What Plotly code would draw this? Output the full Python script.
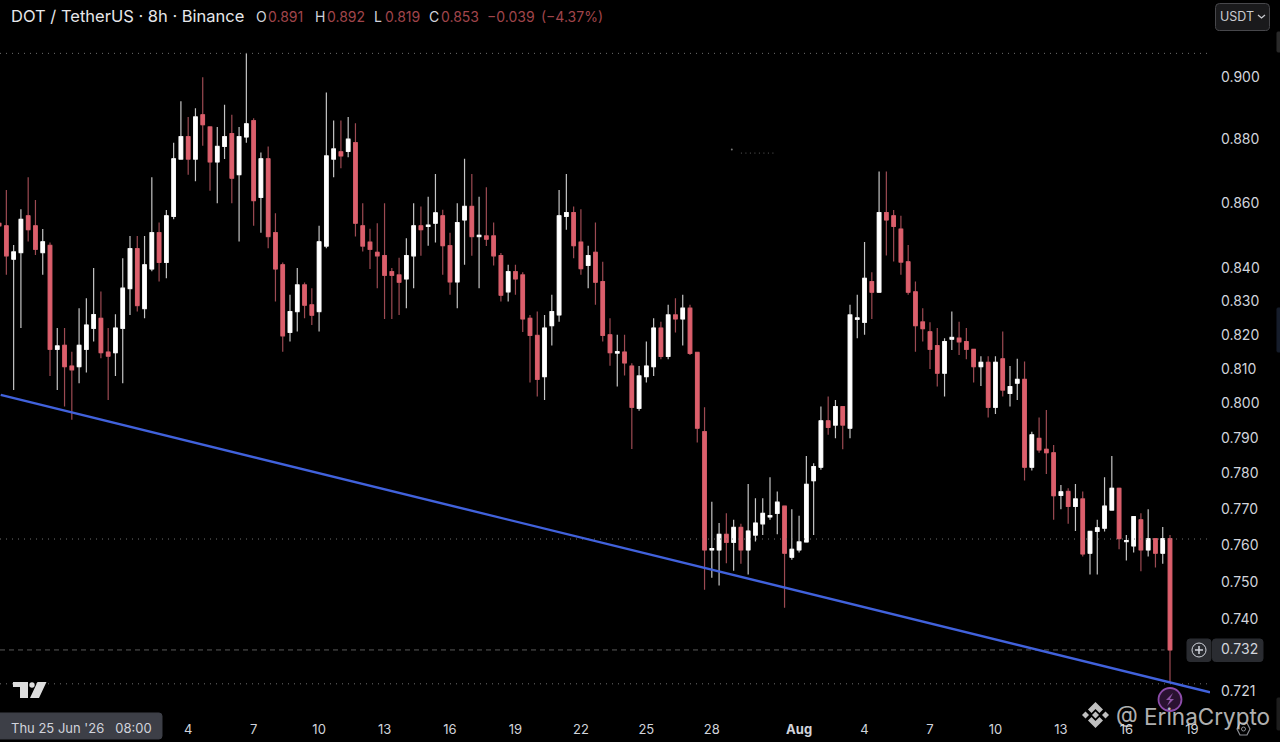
import pandas as pd
import plotly.graph_objects as go

# 8h candles, first one opens Thu 25 Jun '26 08:00
dates = pd.date_range("2026-06-25 08:00", periods=162, freq="8h")

opens = [
    .8537, .8529, .8427, .8447, .8560, .8529, .8447, .8469, .8157, .8169, .8108, .8106, .8157, .8219, .8249, .8149, .8147, .8219, .8338, .8459,
    .8278, .8397, .8508, .8417, .8558, .8737, .8808, .8737, .8878, .8839, .8728, .8777, .8818, .8688, .8807, .8859, .8617, .8738, .8508, .8410,
    .8207, .8269, .8349, .8289, .8269, .8467, .8737, .8760, .8761, .8789, .8529, .8479, .8448, .8438, .8389, .8379, .8367, .8437, .8529, .8527,
    .8537, .8560, .8468, .8358, .8547, .8589, .8496, .8498, .8498, .8438, .8328, .8389, .8379, .8249, .8198, .8077, .8227, .8259, .8558, .8570,
    .8479, .8408, .8448, .8359, .8200, .8146, .8149, .8108, .7985, .8077, .8106, .8220, .8136, .8259, .8247, .8279, .8148, .7918, .7587, .7587,
    .7630, .7608, .7649, .7587, .7628, .7659, .7678, .7688, .7708, .7567, .7587, .7609, .7779, .7817, .7949, .7937, .7990, .7928, .8246, .8237,
    .8359, .8327, .8570, .8560, .8519, .8419, .8328, .8238, .8209, .8168, .8087, .8187, .8190, .8180, .8157, .8106, .8119, .7988, .8129, .8028,
    .8058, .8069, .7817, .7899, .7868, .7858, .7738, .7749, .7707, .7728, .7578, .7638, .7647, .7697, .7758, .7610, .7598, .7670, .7587, .7618,
    .7578, .7618,
]
highs = [
    .8910, .8640, .8470, .8580, .8680, .8609, .8519, .8478, .8220, .8220, .8150, .8279, .8309, .8400, .8329, .8220, .8261, .8430, .8498, .8498,
    .8498, .8680, .8539, .8578, .8789, .8921, .8871, .8899, .8999, .8839, .8839, .8910, .8878, .8839, .9077, .8867, .8758, .8777, .8568, .8417,
    .8319, .8400, .8356, .8339, .8529, .8950, .8860, .8860, .8871, .8851, .8599, .8520, .8537, .8599, .8400, .8431, .8491, .8599, .8589, .8619,
    .8690, .8579, .8508, .8599, .8738, .8690, .8619, .8649, .8539, .8446, .8410, .8410, .8387, .8259, .8269, .8259, .8319, .8640, .8690, .8589,
    .8580, .8468, .8539, .8419, .8249, .8200, .8200, .8116, .8108, .8180, .8249, .8239, .8289, .8309, .8319, .8289, .8148, .7988, .7720, .7661,
    .7688, .7670, .7659, .7770, .7730, .7730, .7789, .7749, .7708, .7699, .7681, .7849, .7828, .7990, .8019, .8009, .7990, .8289, .8319, .8479,
    .8387, .8698, .8698, .8578, .8560, .8470, .8359, .8279, .8237, .8220, .8190, .8269, .8239, .8220, .8157, .8137, .8137, .8137, .8210, .8108,
    .8129, .8121, .7918, .7959, .7980, .7880, .7767, .7758, .7770, .7749, .7638, .7670, .7789, .7849, .7758, .7628, .7679, .7688, .7699, .7619,
    .7650, .7628,
]
lows = [
    .8529, .8380, .8038, .8220, .8481, .8440, .8380, .8079, .8038, .7990, .7952, .8058, .8089, .8180, .8131, .8009, .8079, .8058, .8259, .8269,
    .8249, .8390, .8359, .8369, .8549, .8737, .8688, .8667, .8779, .8638, .8599, .8737, .8599, .8481, .8789, .8529, .8508, .8460, .8299, .8150,
    .8180, .8210, .8249, .8229, .8210, .8460, .8680, .8708, .8743, .8496, .8450, .8397, .8339, .8247, .8247, .8259, .8279, .8339, .8437, .8468,
    .8478, .8380, .8319, .8279, .8410, .8437, .8339, .8467, .8408, .8299, .8299, .8319, .8208, .8060, .8019, .8009, .8168, .8239, .8517, .8430,
    .8380, .8339, .8289, .8180, .8109, .8048, .8080, .7869, .7978, .8060, .8079, .8128, .8128, .8207, .8168, .8140, .7887, .7479, .7511, .7490,
    .7551, .7530, .7549, .7520, .7610, .7628, .7670, .7630, .7430, .7560, .7580, .7609, .7628, .7810, .7909, .7899, .7868, .7899, .8190, .8200,
    .8247, .8327, .8438, .8420, .8380, .8319, .8150, .8180, .8099, .8048, .8019, .8155, .8140, .8128, .8060, .8050, .7959, .7969, .8019, .7990,
    .8009, .7780, .7808, .7858, .7798, .7670, .7699, .7659, .7639, .7569, .7520, .7520, .7638, .7697, .7589, .7558, .7580, .7529, .7569, .7539,
    .7549, .7232,
]
closes = [
    .8529, .8437, .8449, .8549, .8517, .8457, .8480, .8157, .8167, .8106, .8097, .8169, .8229, .8260, .8147, .8137, .8220, .8339, .8459, .8287,
    .8410, .8508, .8417, .8560, .8738, .8808, .8737, .8871, .8846, .8728, .8777, .8808, .8677, .8808, .8849, .8607, .8738, .8496, .8397, .8197,
    .8269, .8349, .8288, .8258, .8480, .8747, .8769, .8747, .8800, .8537, .8467, .8457, .8437, .8378, .8378, .8357, .8438, .8529, .8517, .8531,
    .8569, .8468, .8358, .8539, .8589, .8496, .8500, .8488, .8437, .8318, .8389, .8367, .8247, .8198, .8069, .8220, .8269, .8560, .8570, .8468,
    .8398, .8438, .8357, .8198, .8147, .8150, .8117, .7988, .8079, .8108, .8220, .8136, .8259, .8247, .8279, .8145, .7928, .7587, .7591, .7630,
    .7608, .7649, .7587, .7639, .7661, .7688, .7682, .7719, .7578, .7589, .7609, .7769, .7819, .7949, .7930, .7990, .7937, .8259, .8250, .8369,
    .8327, .8570, .8547, .8527, .8418, .8327, .8227, .8218, .8157, .8087, .8180, .8192, .8179, .8157, .8106, .8119, .7988, .8119, .8038, .8048,
    .8069, .7817, .7909, .7866, .7858, .7737, .7748, .7707, .7728, .7576, .7638, .7648, .7708, .7758, .7618, .7613, .7679, .7587, .7618, .7578,
    .7618, .7318,
]

# trendline ends
trend_dates = ["2026-06-25 09:46", "2026-08-19 20:00"]
trend_prices = [.8024, .7207]

chart_ends = ["2026-06-25 09:00", "2026-08-19 20:00"]
high_level = .9077
mid_level = .7617
low_level = .7229
last_price = .7318
last_dates = ["2026-06-25 09:00", "2026-08-17 18:00"]
stub_dates = ["2026-07-29 08:00", "2026-07-30 22:00"]
stub_price = .8756
dot_date = ["2026-07-28 22:00"]
dot_price = [.8767]

y_ticks = [.900, .880, .860, .840, .830, .820, .810, .800, .790, .780, .770, .760, .750, .740, .732, .721]
y_labels = ["0.900", "0.880", "0.860", "0.840", "0.830", "0.820", "0.810", "0.800", "0.790", "0.780",
            "0.770", "0.760", "0.750", "0.740", "0.732", "0.721"]
x_ticks = ["2026-07-04", "2026-07-07", "2026-07-10", "2026-07-13", "2026-07-16", "2026-07-19", "2026-07-22",
           "2026-07-25", "2026-07-28", "2026-08-01", "2026-08-04", "2026-08-07", "2026-08-10", "2026-08-13",
           "2026-08-16", "2026-08-19"]
x_labels = ["4", "7", "10", "13", "16", "19", "22", "25", "28", "<b>Aug</b>", "4", "7", "10", "13", "16", "19"]

RED = "#dc5f6c"
RED_DIM = "#9c4a52"
TEXT = "#d1d4dc"
FONT = "Inter"
PLOT_W = 1210
PLOT_H = 712


def px(x):
    return x / PLOT_W


def py(y):
    return 1 - y / PLOT_H


def poly(points):
    return "M" + " L".join(f"{px(x):.5f},{py(y):.5f}" for x, y in points) + " Z"


def label(x, y, text, color=TEXT, size=13, anchor="left"):
    fig.add_annotation(x=px(x - 1), y=py(y), xref="paper", yref="paper", text=text, showarrow=False,
                       xanchor=anchor, yanchor="middle", font=dict(family=FONT, size=size, color=color))


def shape_path(path, fill=None, line=None, width=1, layer="above"):
    fig.add_shape(type="path", xref="paper", yref="paper", path=path, layer=layer, fillcolor=fill,
                  line=dict(color=line, width=width if line else 0))


def circle(cx, cy, r, fill=None, line=None, width=1):
    fig.add_shape(type="circle", xref="paper", yref="paper", x0=px(cx - r), x1=px(cx + r), y0=py(cy - r), y1=py(cy + r),
                  fillcolor=fill, line=dict(color=line, width=width if line else 0))


def rounded(x0, y0, x1, y1, r, fill, line=None):
    # square corners cut with a quadratic curve
    def p(x, y):
        return f"{px(x):.5f},{py(y):.5f}"
    path = (f"M{p(x0 + r, y0)} L{p(x1 - r, y0)} Q{p(x1, y0)} {p(x1, y0 + r)} L{p(x1, y1 - r)} Q{p(x1, y1)} {p(x1 - r, y1)} "
            f"L{p(x0 + r, y1)} Q{p(x0, y1)} {p(x0, y1 - r)} L{p(x0, y0 + r)} Q{p(x0, y0)} {p(x0 + r, y0)} Z")
    shape_path(path, fill=fill, line=line or fill, layer="below")


def level(price, color, dash):
    fig.add_trace(go.Scatter(x=chart_ends, y=[price, price], mode="lines", hoverinfo="skip",
                             line=dict(color=color, width=1, dash=dash)))


fig = go.Figure()
# wicks first, in the duller colours
fig.add_trace(go.Candlestick(
    x=dates, open=opens, high=highs, low=lows, close=closes,
    increasing=dict(fillcolor="#ffffff", line=dict(color="#c4c4c4", width=1.2)),
    decreasing=dict(fillcolor=RED, line=dict(color=RED_DIM, width=1.2)),
))
# then the bodies on top, without wicks
body_tops = [max(o, c) for o, c in zip(opens, closes)]
body_bottoms = [min(o, c) for o, c in zip(opens, closes)]
fig.add_trace(go.Candlestick(
    x=dates, open=opens, high=body_tops, low=body_bottoms, close=closes,
    increasing=dict(fillcolor="#ffffff", line=dict(color="#ffffff", width=0.8)),
    decreasing=dict(fillcolor=RED, line=dict(color=RED, width=0.8)),
))
level(high_level, "#6e6e6e", "1px,5px")
level(mid_level, "#6e6e6e", "1px,5px")
level(low_level, "#6e6e6e", "1px,5px")
fig.add_trace(go.Scatter(x=last_dates, y=[last_price, last_price], mode="lines", hoverinfo="skip",
                         line=dict(color="#5a5a5a", width=1, dash="5px,4px")))
fig.add_trace(go.Scatter(x=stub_dates, y=[stub_price, stub_price], mode="lines", hoverinfo="skip",
                         line=dict(color="#5c5c5c", width=1, dash="1px,3.5px")))
fig.add_trace(go.Scatter(x=dot_date, y=dot_price, mode="markers", hoverinfo="skip",
                         marker=dict(color="#777777", size=2)))
fig.add_trace(go.Scatter(x=trend_dates, y=trend_prices, mode="lines", hoverinfo="skip",
                         line=dict(color="#4162dc", width=2.4)))

fig.update_layout(
    width=1280, height=742, showlegend=False,
    paper_bgcolor="#000000", plot_bgcolor="#000000",
    margin=dict(l=0, r=70, t=0, b=30),
    font=dict(family=FONT, color=TEXT),
)
fig.update_xaxes(type="date", range=chart_ends, rangeslider_visible=False, showgrid=False, zeroline=False,
                 showline=False, ticks="", tickmode="array", tickvals=x_ticks, ticktext=x_labels,
                 tickfont=dict(family=FONT, size=13, color=TEXT), ticklabelstandoff=8)
fig.update_yaxes(type="log", side="right", range=[-0.14534, -0.03369], showgrid=False, zeroline=False,
                 showline=False, ticks="", tickmode="array", tickvals=y_ticks, ticktext=y_labels,
                 tickfont=dict(family=FONT, size=14, color=TEXT), ticklabelstandoff=10)

# header row
label(10, 16, "DOT / TetherUS · 8h · Binance", color="#e6e7ea", size=16.5)
for x, text in [(255, "O"), (314, "H"), (373, "L"), (428, "C")]:
    label(x, 16, text, color="#d1d4dc", size=14)
for x, text in [(267, "0.891"), (326, "0.892"), (384, "0.819"), (440, "0.853"), (486, "−0.039"), (540, "(−4.37%)")]:
    label(x, 16, text, color="#a0454b", size=14)

# currency button
rounded(1215.5, 3.5, 1269.5, 30.5, 4, "#1a1a1c", "#47474b")
label(1219, 16, "USDT", color="#c9cbd0", size=12.5)
shape_path(f"M{px(1258):.5f},{py(15):.5f} L{px(1261.5):.5f},{py(18):.5f} L{px(1265):.5f},{py(15):.5f}",
           line="#c9cbd0", width=1.3)

# crosshair date pill
rounded(-6, 713, 162, 739, 3, "#3d3f47")
label(10, 728, "Thu 25 Jun '26&nbsp;&nbsp;&nbsp;08:00", color=TEXT, size=13)

# last price box and plus button
rounded(1187, 639, 1211, 661.5, 3, "#2a2c31")
rounded(1212.5, 639, 1263, 661.5, 3, "#2a2c31")
circle(1199, 650, 7, line="#d1d4dc")
shape_path(poly([(1195, 650), (1203, 650)]), line="#d1d4dc")
shape_path(poly([(1199, 646), (1199, 654)]), line="#d1d4dc")

# tradingview mark
shape_path(poly([(13, 682), (28, 682), (28, 698), (20, 698), (20, 687), (13, 687)]), fill="#dedede")
shape_path(poly([(37.5, 682), (46.5, 682), (39, 698), (30, 698)]), fill="#dedede")
circle(32, 685, 2.7, fill="#dedede")

# flash marker under the last candle
circle(1170, 699.5, 11.5, fill="#2a1231", line="#8d4caa", width=1.8)
shape_path(poly([(1173, 693), (1166, 700), (1170, 700), (1167, 706), (1174, 699), (1170, 699)]), fill="#8f55a8")

# watermark, binance diamond then handle
logo = "rgba(225,225,225,0.85)"
shape_path(poly([(1095.5, 702), (1103, 709.5), (1099.5, 713), (1095.5, 709), (1091.5, 713), (1088, 709.5)]), fill=logo)
shape_path(poly([(1095.5, 728), (1103, 720.5), (1099.5, 717), (1095.5, 721), (1091.5, 717), (1088, 720.5)]), fill=logo)
for cx in [1085.5, 1095.5, 1105.5]:
    shape_path(poly([(cx, 711.5), (cx + 3.5, 715), (cx, 718.5), (cx - 3.5, 715)]), fill=logo)
label(1115, 716.5, "@ ErinaCrypto", color="rgba(225,225,225,0.8)", size=22.5)

# settings icon
shape_path(poly([(1240, 723), (1247, 723), (1250, 729), (1247, 735), (1240, 735), (1237, 729)]), line="#8b8d93", width=1.2)
circle(1243.5, 729, 2, line="#8b8d93")

# bits of the next panel showing at the right edge
rounded(1277, 32, 1282, 52, 1, "#2a2a2a")
rounded(1277, 308, 1282, 352, 1, "#161d2b")
rounded(1277, 698, 1282, 730, 1, "#1e1e1e")

fig.write_html("out.html", config=dict(displayModeBar=False), post_script="document.body.style.margin='0';")
